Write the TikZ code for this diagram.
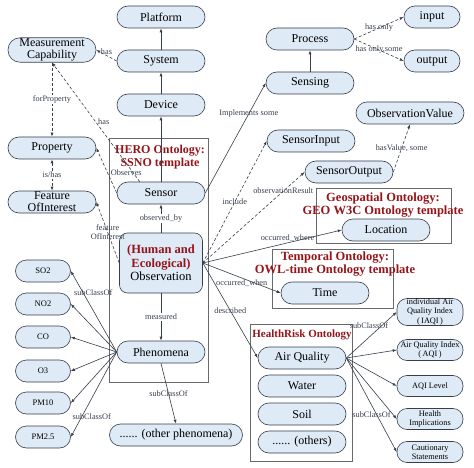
\documentclass[tikz,border=0pt]{standalone}
\usepackage{fontspec}
\setmainfont{Liberation Serif}
\usetikzlibrary{positioning, arrows.meta}
\definecolor{pillfill}{RGB}{222,234,246}
\definecolor{pillline}{RGB}{55,62,75}
\definecolor{ontored}{RGB}{150,20,25}
\definecolor{frameline}{RGB}{105,105,105}

\begin{document}
\begin{tikzpicture}[x=1pt, y=-1pt, every node/.style={font=\fontsize{12}{12}\selectfont},
    concept/.style={draw=pillline, fill=pillfill, rounded corners=11pt, minimum width=88pt, minimum height=22pt, inner sep=1pt, align=center, line width=0.6pt},
    gasbox/.style={concept, minimum width=55pt, font=\fontsize{8.5}{9}\selectfont},
    idxbox/.style={concept, minimum width=66pt, minimum height=21pt, rounded corners=10pt, inner sep=0.5pt, font=\fontsize{8.3}{9.2}\selectfont},
    obsbox/.style={concept, rounded corners=8pt, minimum width=83pt, minimum height=60pt, font=\fontsize{12.5}{13.5}\selectfont},
    ontoframe/.style={draw=frameline, line width=0.6pt},
    ontotitle/.style={text=ontored, font=\bfseries\fontsize{12.5}{13}\selectfont, align=center, inner sep=0pt},
    lbl/.style={font=\fontsize{8.3}{9}\selectfont, inner sep=1pt, align=center},
    lblw/.style={lbl, fill=white},
    arrow/.style={-{Latex[length=4pt, width=3pt]}, pillline, line width=0.6pt},
    darrow/.style={arrow, dash pattern=on 3pt off 2pt}]

    \useasboundingbox (0,0) rectangle (474,468);

    % Ontology frames
    \draw[ontoframe] (109,138) rectangle (208,382);
    \draw[ontoframe] (316,188) rectangle (451,243);
    \draw[ontoframe] (272,249) rectangle (393,308);
    \draw[ontoframe] (250,324) rectangle (352,461);

    \node[ontotitle, font=\bfseries\fontsize{12}{13}\selectfont] (herotitle) at (160,157) {HERO Ontology:\\SSNO template};
    \node[ontotitle] (geotitle) at (383,205) {Geospatial Ontology:\\GEO W3C Ontology template};
    \node[ontotitle] (timetitle) at (335,264) {Temporal Ontology:\\OWL-time Ontology template};
    \node[ontotitle, font=\bfseries\fontsize{11}{11}\selectfont] (healthtitle) at (302,335) {HealthRisk Ontology};

    % SSNO nodes
    \node[concept] (platform) at (161,17) {Platform};
    \node[concept] (system) at (161,61) {System};
    \node[concept] (device) at (161,105) {Device};
    \node[concept, minimum height=24pt, rounded corners=12pt] (capability) at (52,50) {Measurement\\Capability};
    \node[concept] (property) at (52,148) {Property};
    \node[concept] (feature) at (52,202) {Feature\\OfInterest};
    \node[concept] (sensor) at (161,193) {Sensor};
    \node[obsbox] (observation) at (161,263) {{\color{ontored}\bfseries (Human and}\\{\color{ontored}\bfseries Ecological)}\\Observation};
    \node[concept] (phenomena) at (161,352) {Phenomena};
    \node[concept, minimum width=133pt] (otherphen) at (176,435) {...... (other phenomena)};

    \node[concept] (process) at (310,39) {Process};
    \node[concept] (sensing) at (310,83) {Sensing};
    \node[concept, minimum width=56pt] (input) at (432,17) {input};
    \node[concept, minimum width=56pt] (output) at (432,61) {output};
    \node[concept, minimum width=108pt] (obsvalue) at (410,113) {ObservationValue};
    \node[concept] (sensorinput) at (311,141) {SensorInput};
    \node[concept] (sensoroutput) at (349,172) {SensorOutput};
    \node[concept] (location) at (386,230) {Location};
    \node[concept] (time) at (325,293) {Time};

    % Phenomena subclasses
    \foreach \name/\txt/\y in {so2/SO2/271, no2/NO2/304, co/CO/337, o3/O3/371, pm10/PM10/403, pm25/PM2.5/437}
        \node[gasbox] (\name) at (43,\y) {\txt};

    % HealthRisk nodes
    \node[concept] (airquality) at (302,358) {Air Quality};
    \node[concept] (water) at (302,386) {Water};
    \node[concept] (soil) at (302,414) {Soil};
    \node[concept] (others) at (302,442) {...... (others)};

    \node[idxbox] (iaqi) at (430,312) {individual Air\\Quality Index\\(\,IAQI\,)};
    \node[idxbox] (aqi) at (430,350) {Air Quality Index\\(\,AQI\,)};
    \node[idxbox] (aqilevel) at (430,386) {AQI Level};
    \node[idxbox] (health) at (430,419) {Health\\Implications};
    \node[idxbox] (caution) at (430,452) {Cautionary\\Statements};

    % Solid connectors
    \draw[arrow] (system) -- (platform);
    \draw[arrow] (device) -- (system);
    \draw[arrow] (sensor) -- (device);
    \draw[arrow] (observation) -- node[lblw] {observed\_by} (sensor);
    \draw[arrow] (observation) -- node[lblw] {measured} (phenomena);
    \draw[arrow] (sensor.east) -- node[lbl, pos=0.72] {Implements some} (sensing.west);
    \draw[arrow] (sensing) -- (process);
    \draw[arrow] (observation.east) -- node[lbl, pos=0.61, above] {occurred\_where} (location.west);
    \draw[arrow] (observation.east) -- node[lbl, midway, below] {occurred\_when} (time.west);
    \draw[arrow] (observation.east) -- node[lbl] {described} (airquality.west);
    \draw[arrow] (phenomena.south) -- node[lbl] {subClassOf} (otherphen.north);

    \draw[arrow] (phenomena.west) -- node[lbl, pos=0.73, xshift=10pt] {subClassOf} (so2.east);
    \foreach \name in {no2, co, o3, pm10}
        \draw[arrow] (phenomena.west) -- (\name.east);
    \draw[arrow] (phenomena.west) -- node[lbl, pos=0.76, xshift=10pt] {subClassOf} (pm25.east);

    \draw[arrow] (airquality.east) -- node[lbl, pos=0.45, above=7pt] {subClassOf} (iaqi.west);
    \foreach \name in {aqi, aqilevel, health}
        \draw[arrow] (airquality.east) -- (\name.west);
    \draw[arrow] (airquality.east) -- node[lbl, pos=0.6, xshift=-5pt] {subClassOf} (caution.west);

    % Dashed connectors
    \draw[darrow] (system.west) -- node[lbl, above] {has} (capability.east);
    \draw[darrow] (sensor.152) -- node[lbl, right=1pt] {has} (capability.south);
    \draw[darrow] (capability) -- node[lblw] {forProperty} (property);
    \draw[darrow, {Latex[length=4pt, width=3pt]}-{Latex[length=4pt, width=3pt]}] (property) -- node[lblw] {is/has} (feature);
    \draw[darrow] (sensor.west) -- node[lbl, pos=0.45, right=2pt] {Observes} (property.east);
    \draw[darrow] (observation.west) -- node[lbl] {feature\\OfInterest} (feature.east);
    \draw[darrow] (process.east) -- node[lbl] {has only} (input.west);
    \draw[darrow] (process.east) -- node[lbl] {has only,some} (output.west);
    \draw[darrow] (observation.east) -- node[lbl] {include} (sensorinput.west);
    \draw[darrow] (observation.east) -- node[lbl, pos=0.79] {observationResult} (sensoroutput.west);
    \draw[darrow] (sensoroutput.east) -- node[lbl] {hasValue, some} (obsvalue.south);

\end{tikzpicture}
\end{document}
